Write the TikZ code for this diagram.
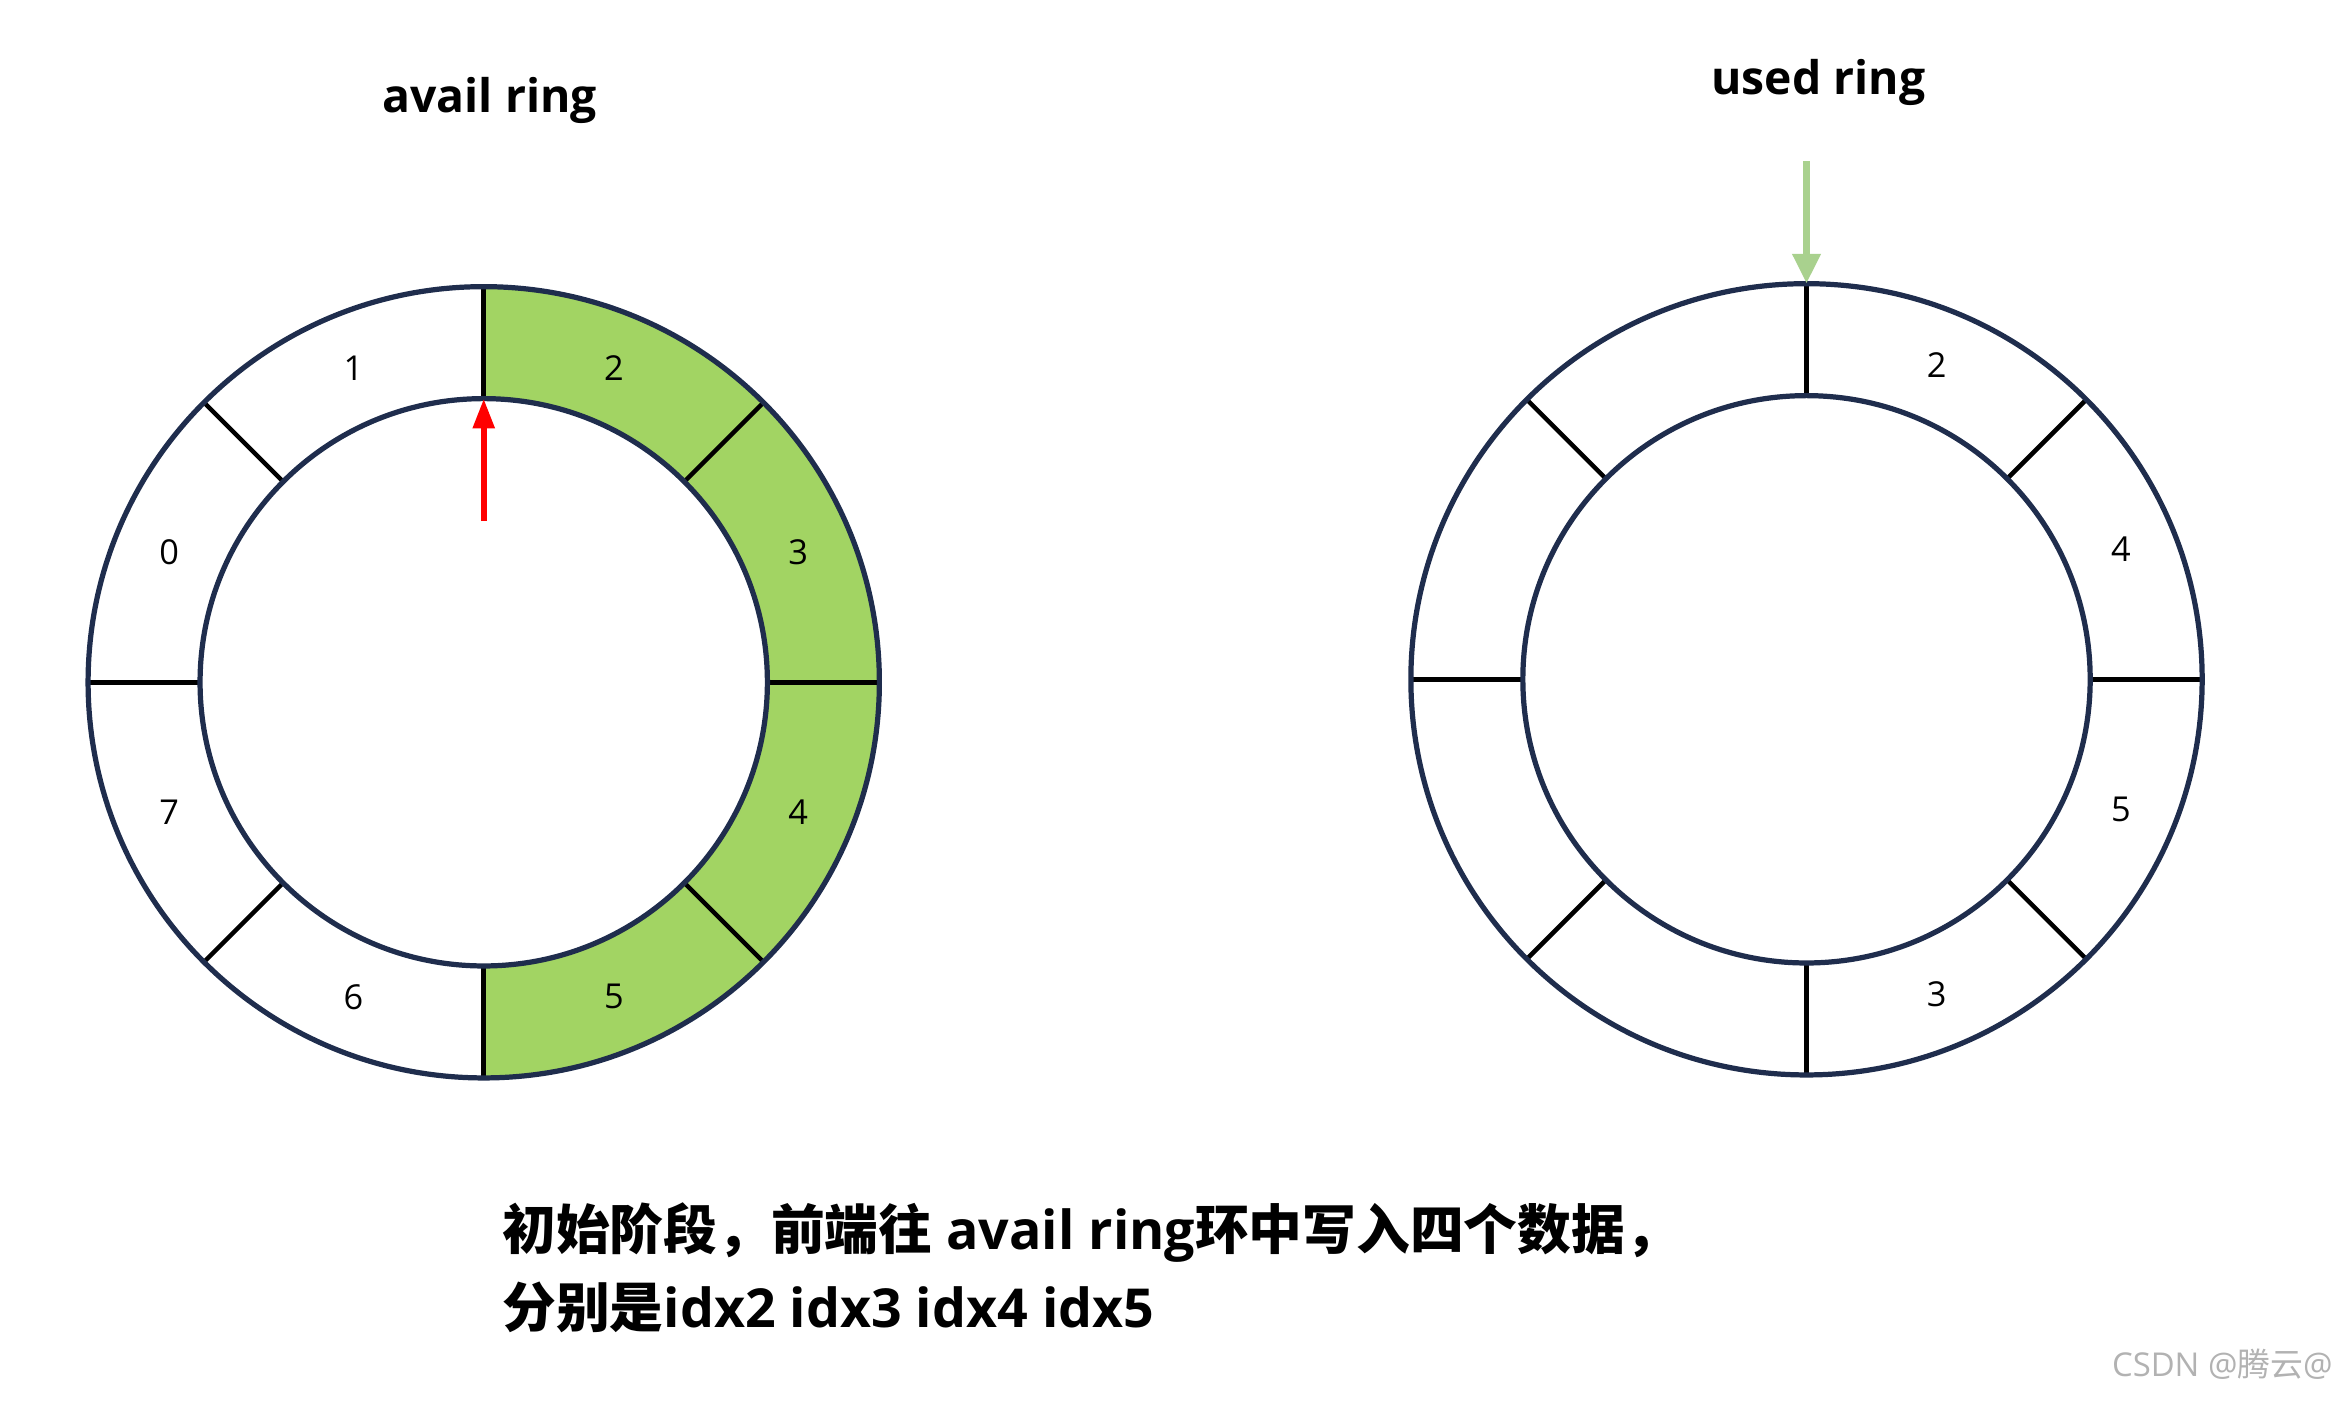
\documentclass[tikz,border=0pt]{standalone}
\usepackage{fontspec}
\setmainfont{Open Sans}
\newfontfamily\cjk{Noto Sans CJK SC}
\usetikzlibrary{arrows.meta}
\definecolor{navy}{HTML}{1F2D4D}
\definecolor{segg}{HTML}{A2D463}
\definecolor{lgreen}{HTML}{A9D18E}
\tikzset{ringline/.style={draw=navy,line width=3.5pt},
divider/.style={draw=black,line width=3pt},
lbl/.style={font=\fontsize{23}{26}\selectfont},
title/.style={font=\fontsize{31}{34}\selectfont\bfseries}}
\begin{document}
\begin{tikzpicture}[x=1pt,y=1pt]
\useasboundingbox (0,0) rectangle (1568,940);
% left ring
\begin{scope}[shift={(324,483)}]
\fill[segg] (-90:265) arc[start angle=-90,end angle=90,radius=265] -- (90:190) arc[start angle=90,end angle=-90,radius=190] -- cycle;
\foreach \a in {0,45,...,315}{\draw[divider] (\a:190) -- (\a:265);}
\draw[ringline] (0,0) circle (265) (0,0) circle (190);
\foreach \a/\t in {67.5/2,22.5/3,-22.5/4,-67.5/5,-112.5/6,-157.5/7,157.5/0,112.5/1}{\node[lbl] at (\a:228) {\t};}
\coordinate (ltop) at (90:190);
\coordinate (ltail) at (0,108);
\end{scope}
\draw[red,line width=4pt,-{Triangle[width=14pt,length=20pt]}] (ltail) -- (ltop);
% right ring
\begin{scope}[shift={(1210,485)}]
\foreach \a in {0,45,...,315}{\draw[divider] (\a:190) -- (\a:265);}
\draw[ringline] (0,0) circle (265) (0,0) circle (190);
\foreach \a/\t in {67.5/2,22.5/4,-22.5/5,-67.5/3}{\node[lbl] at (\a:228) {\t};}
\coordinate (rtop) at (90:265);
\coordinate (rtail) at (0,347);
\end{scope}
\draw[lgreen,line width=5pt,-{Triangle[width=18pt,length=20pt]}] (rtail) -- (rtop);
\node[title] (t1) at (328,873) {avail ring};
\node[title] (t2) at (1218,885) {used ring};
\node[anchor=west,align=left,font=\fontsize{36}{52}\selectfont\bfseries] (cap) at (333,91) {{\cjk 初始阶段，前端往} avail ring{\cjk 环中写入四个数据，}\\{\cjk 分别是}idx2 idx3 idx4 idx5};
\node[anchor=east,text=gray!60,font=\fontsize{22}{24}\selectfont] (wm) at (1566,26) {CSDN @{\cjk 腾云}@};
\end{tikzpicture}
\end{document}
